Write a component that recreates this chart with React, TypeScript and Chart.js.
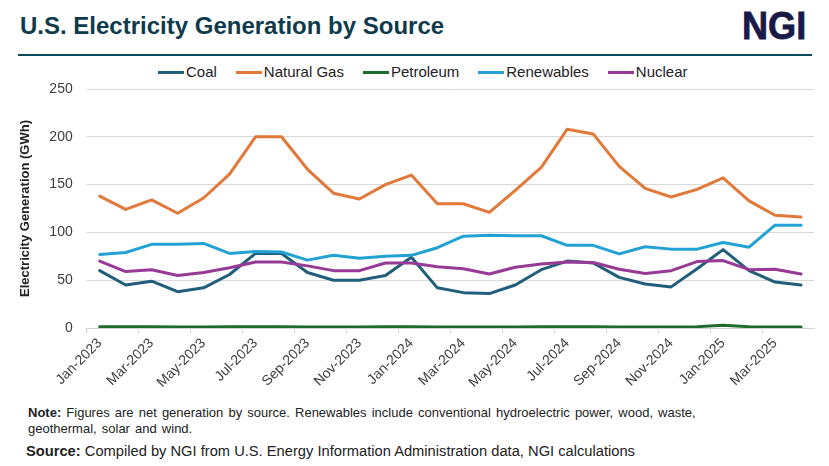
import React, { useEffect, useRef } from "react";
import { Chart, registerables } from "chart.js";

Chart.register(...registerables);

const months: string[] = [
  "Jan-2023", "Feb-2023", "Mar-2023", "Apr-2023", "May-2023", "Jun-2023",
  "Jul-2023", "Aug-2023", "Sep-2023", "Oct-2023", "Nov-2023", "Dec-2023",
  "Jan-2024", "Feb-2024", "Mar-2024", "Apr-2024", "May-2024", "Jun-2024",
  "Jul-2024", "Aug-2024", "Sep-2024", "Oct-2024", "Nov-2024", "Dec-2024",
  "Jan-2025", "Feb-2025", "Mar-2025", "Apr-2025",
];

const coal: number[] = [60, 45, 49, 38, 42, 56, 78, 78, 58, 50, 50, 55, 74, 42, 37, 36, 45, 61, 70, 68, 53, 46, 43, 62, 82, 60, 48, 45];
const naturalGas: number[] = [138, 124, 134, 120, 136, 161, 200, 200, 166, 141, 135, 150, 160, 130, 130, 121, 144, 168, 208, 203, 169, 146, 137, 145, 157, 133, 118, 116];
const petroleum: number[] = [1.2, 1.2, 1.2, 1.1, 1.1, 1.2, 1.3, 1.3, 1.1, 1.1, 1.1, 1.2, 1.3, 1.1, 1.1, 1.0, 1.1, 1.2, 1.3, 1.3, 1.1, 1.0, 1.0, 1.4, 3.0, 1.3, 1.0, 1.0];
const renewables: number[] = [77, 79, 87.5, 87.5, 88.5, 78, 80, 79.5, 71, 76, 73, 75, 76, 84, 96, 97, 96.5, 96.5, 86.5, 86.5, 77.5, 85, 82.5, 82.5, 89.5, 84.5, 107.5, 107.5];
const nuclear: number[] = [70, 59, 61, 55, 58, 63, 69, 69, 65, 60, 60, 68, 68, 64, 62, 56.5, 63.5, 67, 69, 68.5, 61.5, 57, 60, 69.5, 70.5, 61, 61.5, 56.5];

const seriesNames: string[] = ["Coal", "Natural Gas", "Petroleum", "Renewables", "Nuclear"];
const seriesColors: string[] = ["#215e7c", "#e2793a", "#1f6b2c", "#22a2d4", "#963a95"];
const yTicks: number[] = [0, 50, 100, 150, 200, 250];

const FONT = "'Liberation Sans', Arial, sans-serif";

export default function App() {
  const canvasRef = useRef<HTMLCanvasElement | null>(null);

  useEffect(() => {
    if (!canvasRef.current) return;
    const values = [coal, naturalGas, petroleum, renewables, nuclear];
    const chart = new Chart(canvasRef.current, {
      type: "line",
      data: {
        labels: months,
        datasets: values.map((v, i) => ({
          label: seriesNames[i],
          data: v,
          borderColor: seriesColors[i],
          backgroundColor: seriesColors[i],
          borderWidth: 3,
          pointRadius: 0,
          pointHoverRadius: 0,
          tension: 0,
          borderJoinStyle: "round" as const,
          borderCapStyle: "round" as const,
          order: values.length - i,
        })),
      },
      options: {
        animation: false,
        responsive: false,
        maintainAspectRatio: false,
        layout: { padding: { left: 0, right: 15, top: 9, bottom: 0 } },
        plugins: {
          legend: { display: false },
          tooltip: { enabled: false },
        },
        scales: {
          x: {
            type: "category",
            offset: true,
            afterFit: (scale: any) => {
              scale.height = 72;
            },
            grid: {
              offset: true,
              drawOnChartArea: false,
              drawTicks: true,
              tickLength: 5,
              color: (ctx: any) => (ctx.index % 2 === 0 ? "#d4d4d4" : "rgba(0,0,0,0)"),
            },
            border: { display: true, color: "#d4d4d4", width: 1 },
            ticks: {
              autoSkip: false,
              maxRotation: 45,
              minRotation: 45,
              padding: 2,
              color: "#404040",
              font: { family: FONT, size: 14 },
              callback: (_v: any, idx: number) => (idx % 2 === 0 ? months[idx] : ""),
            },
          },
          y: {
            min: yTicks[0],
            max: yTicks[yTicks.length - 1],
            afterFit: (scale: any) => {
              scale.width = 86.7;
              scale.paddingTop = 0;
              scale.paddingBottom = 0;
            },
            afterBuildTicks: (scale: any) => {
              scale.ticks = yTicks.map((v) => ({ value: v }));
            },
            grid: { color: "#d9d9d9", drawTicks: false, lineWidth: 1 },
            border: { display: false },
            ticks: {
              padding: 14,
              color: "#404040",
              font: { family: FONT, size: 14 },
            },
            title: {
              display: true,
              text: "Electricity Generation (GWh)",
              color: "#222222",
              font: { family: FONT, size: 13, weight: "bold" },
              padding: { top: 18, bottom: 0 },
            },
          },
        },
      },
    });
    return () => chart.destroy();
  }, []);

  return (
    <div
      style={{
        position: "absolute",
        left: 0,
        top: 0,
        width: 829,
        height: 466,
        background: "#ffffff",
        fontFamily: FONT,
        overflow: "hidden",
      }}
    >
      <div
        style={{
          position: "absolute",
          left: 20,
          top: 12,
          fontSize: 24,
          lineHeight: "28px",
          fontWeight: "bold",
          color: "#0e3b4b",
          whiteSpace: "nowrap",
        }}
      >
        U.S. Electricity Generation by Source
      </div>
      <div
        style={{
          position: "absolute",
          left: 742,
          top: 4,
          fontSize: 38,
          lineHeight: "44px",
          fontWeight: "bold",
          color: "#1a1a48",
          transform: "scaleX(0.95)",
          transformOrigin: "left top",
          WebkitTextStroke: "0.8px #1a1a48",
          whiteSpace: "nowrap",
        }}
      >
        NGI
      </div>
      <div
        style={{
          position: "absolute",
          left: 18,
          top: 54,
          width: 794,
          height: 2,
          background: "#0f4c5a",
        }}
      />
      <div
        style={{
          position: "absolute",
          left: 158,
          top: 63,
          display: "flex",
          gap: 19,
          alignItems: "center",
          fontSize: 15,
          lineHeight: "18px",
          color: "#222222",
          whiteSpace: "nowrap",
        }}
      >
        {seriesNames.map((n, i) => (
          <div key={n} style={{ display: "flex", alignItems: "center" }}>
            <span
              style={{
                display: "inline-block",
                width: 26,
                height: 3,
                background: seriesColors[i],
                marginRight: 2,
              }}
            />
            <span>{n}</span>
          </div>
        ))}
      </div>
      <canvas
        ref={canvasRef}
        width={829}
        height={320}
        style={{ position: "absolute", left: 0, top: 80, width: 829, height: 320 }}
      />
      <div
        style={{
          position: "absolute",
          left: 28,
          top: 405,
          fontSize: 13,
          lineHeight: "16px",
          wordSpacing: "1.5px",
          color: "#222222",
          whiteSpace: "nowrap",
        }}
      >
        <b>Note:</b> Figures are net generation by source. Renewables include conventional hydroelectric power, wood, waste,
        <br />
        geothermal, solar and wind.
      </div>
      <div
        style={{
          position: "absolute",
          left: 26,
          top: 443,
          fontSize: 14.7,
          lineHeight: "17px",
          color: "#222222",
          whiteSpace: "nowrap",
        }}
      >
        <b>Source:</b> Compiled by NGI from U.S. Energy Information Administration data, NGI calculations
      </div>
    </div>
  );
}
